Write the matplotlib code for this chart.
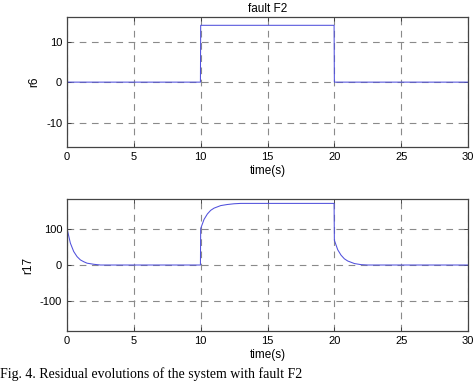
import matplotlib
matplotlib.use('Agg')
import matplotlib.pyplot as plt

# residual r6 (step between 10 s and 20 s)
t6 = [0, 9.98, 10.0, 19.98, 20.0, 30]
r6 = [0, 0, 14, 14, 0, 0]

# residual r17
t17 = [0, 0.25, 0.5, 0.75, 1.0, 1.25, 1.5, 2.0, 2.5, 9.98,
       10.0, 10.25, 10.5, 10.75, 11.0, 11.5, 12.0, 12.5, 13.0, 19.98,
       20.0, 20.25, 20.5, 20.75, 21.0, 21.5, 22.0, 22.5, 30]
r17 = [100, 60, 37, 23, 14, 9, 5, 2, 0, 0,
       100, 125, 140, 150, 156, 163, 166, 168, 169, 169,
       68, 42, 27, 17, 11, 4, 1, 0, 0]

xticks = [0, 5, 10, 15, 20, 25, 30]
yticks6 = [-10, 0, 10]
yticks17 = [-100, 0, 100]

plt.rcParams['font.family'] = ['Liberation Sans', 'DejaVu Sans']
plt.rcParams['axes.unicode_minus'] = False
fig = plt.figure(figsize=(4.74, 3.82), dpi=100)
fig.patch.set_facecolor('white')

LINE = '#5050dc'
GRID = '#8a8a8a'


def style(ax, yticks, ylim, ylabel):
    ax.set_xlim(0, 30)
    ax.set_ylim(*ylim)
    ax.set_xticks(xticks)
    ax.set_yticks(yticks)
    ax.tick_params(direction='in', labelsize=8, length=3, width=0.6,
                   top=True, right=True, colors='#333333', labelcolor='black')
    ax.grid(True, color=GRID, linestyle=(0, (6, 5)), linewidth=0.8)
    for s in ax.spines.values():
        s.set_color('#444444')
        s.set_linewidth(0.9)
    ax.set_xlabel('time(s)', fontsize=8.5, labelpad=2)
    ax.set_ylabel(ylabel, fontsize=8.5, labelpad=4)


ax1 = fig.add_axes([0.1414, 0.615, 0.846, 0.340])
ax1.plot(t6, r6, color=LINE, lw=0.75)
style(ax1, yticks6, (-16, 16), 'r6')
ax1.set_title('fault F2', fontsize=8.5, pad=4)

ax2 = fig.add_axes([0.1414, 0.1335, 0.846, 0.3455])
ax2.plot(t17, r17, color=LINE, lw=0.75)
style(ax2, yticks17, (-181, 181), 'r17')

fig.text(0.0, 0.003, 'Fig. 4. Residual evolutions of the system with fault F2',
         fontsize=10, family='Liberation Serif', ha='left', va='bottom')

fig.savefig('out.png', dpi=100)
